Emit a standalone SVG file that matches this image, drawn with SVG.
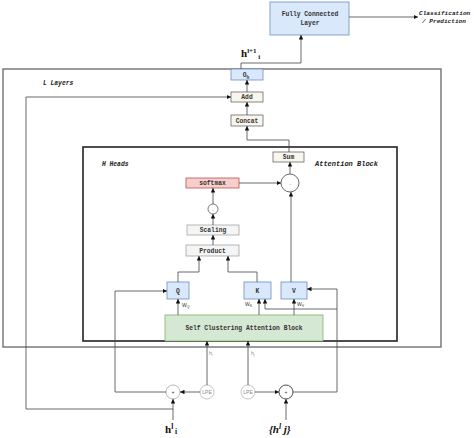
<svg xmlns="http://www.w3.org/2000/svg" width="474" height="438" viewBox="0 0 474 438">
<defs>
<marker id="a" viewBox="0 0 10 10" refX="10" refY="5" markerWidth="4.5" markerHeight="4.5" markerUnits="userSpaceOnUse" orient="auto"><path d="M0,0 L10,5 L0,10 z" fill="#111"/></marker>
</defs>
<style>
.t{font-family:"Liberation Mono","DejaVu Sans Mono",monospace;font-weight:bold;font-size:6.3px;fill:#333;text-anchor:middle}
.it{font-family:"Liberation Mono","DejaVu Sans Mono",monospace;font-weight:bold;font-style:italic;font-size:6.3px;fill:#222}
.h{font-family:"Liberation Serif","DejaVu Serif",serif;font-weight:bold;font-size:11px;fill:#111}
.sm{font-family:"Liberation Sans",sans-serif;font-size:5px;fill:#333}
.gr{font-family:"Liberation Sans",sans-serif;font-size:5px;fill:#888}
.blue{fill:#dae8fc;stroke:#6c8ebf;stroke-width:0.8}
.beige{fill:#f9f7ed;stroke:#36393d;stroke-width:0.6}
.gray{fill:#f5f5f5;stroke:#888;stroke-width:0.6}
.c{fill:none;stroke:#444;stroke-width:0.8}
</style>
<rect x="3" y="69" width="438" height="278" fill="none" stroke="#666" stroke-width="1.3"/>
<rect x="83" y="147" width="314" height="194" fill="none" stroke="#222" stroke-width="1.6"/>
<text class="it" x="43" y="85">L Layers</text>
<text class="it" x="102" y="166">H Heads</text>
<text class="it" x="315" y="166" style="font-size:7px">Attention Block</text>

<g id="fc"><rect class="blue" x="270" y="2" width="79" height="33"/><text class="t" x="310" y="16">Fully Connected</text><text class="t" x="310" y="25">Layer</text></g>
<g id="oh"><rect class="blue" x="231" y="69" width="32" height="11"/><text class="t" x="246" y="77">O<tspan font-size="4.5" dy="1.5">h</tspan></text></g>
<g id="add"><rect class="beige" x="231" y="92" width="32" height="10"/><text class="t" x="247" y="99">Add</text></g>
<g id="concat"><rect class="beige" x="231" y="115" width="32" height="11"/><text class="t" x="247" y="122.5">Concat</text></g>
<g id="sum"><rect class="beige" x="273" y="152" width="31" height="10"/><text class="t" x="288.5" y="159">Sum</text></g>
<g id="softmax"><rect fill="#f8cecc" stroke="#b85450" stroke-width="0.8" x="186" y="178" width="53" height="10"/><text class="t" x="212.5" y="185">softmax</text></g>
<g id="mul"><circle cx="290" cy="183" r="9" fill="#fff" stroke="#444" stroke-width="0.8"/><text class="sm" x="290" y="185" text-anchor="middle">.</text></g>
<g id="dot"><circle cx="213" cy="209" r="5" fill="#fff" stroke="#444" stroke-width="0.7"/><text class="sm" x="213" y="211" text-anchor="middle" font-size="4">.</text></g>
<g id="scaling"><rect class="gray" x="187" y="225" width="52" height="10"/><text class="t" x="213" y="232">Scaling</text></g>
<g id="product"><rect class="gray" x="186" y="245" width="53" height="11" fill="#fafafa"/><text class="t" x="212.5" y="252.5">Product</text></g>
<g id="q"><rect class="blue" x="167" y="282" width="22" height="17"/><text class="t" x="178" y="293">Q</text></g>
<g id="k"><rect class="blue" x="244" y="282" width="27" height="17"/><text class="t" x="257.5" y="293">K</text></g>
<g id="v"><rect class="blue" x="281" y="282" width="26" height="17"/><text class="t" x="294" y="293">V</text></g>
<g id="sca"><rect fill="#d5e8d4" stroke="#82b366" stroke-width="0.8" x="165" y="315" width="158" height="26"/><text class="t" x="244" y="330">Self Clustering Attention Block</text></g>
<g id="plusi"><circle cx="173" cy="392" r="7" fill="#fff" stroke="#999" stroke-width="0.7"/><text class="sm" x="173" y="394" text-anchor="middle" font-size="5">+</text></g>
<g id="lpei"><circle cx="207" cy="392" r="7" fill="#fff" stroke="#aaa" stroke-width="0.7"/><text class="gr" x="207" y="393.5" text-anchor="middle" font-size="3.8">LPE</text></g>
<g id="lpej"><circle cx="248" cy="392" r="7" fill="#fff" stroke="#aaa" stroke-width="0.7"/><text class="gr" x="248" y="393.5" text-anchor="middle" font-size="3.8">LPE</text></g>
<g id="plusj"><circle cx="286" cy="392" r="7" fill="#fff" stroke="#222" stroke-width="0.8"/><text class="sm" x="286" y="394" text-anchor="middle" font-size="5">+</text></g>

<g id="connectors" class="c">
<path class="c" d="M349,17 H418" marker-end="url(#a)"/>
<path class="c" d="M241,69 V63 H301 V35" marker-end="url(#a)"/>
<path class="c" d="M247,115 V102" marker-end="url(#a)"/>
<path class="c" d="M247,92 V80" marker-end="url(#a)"/>
<path class="c" d="M289,152 V140 H247 V126" marker-end="url(#a)"/>
<path class="c" d="M173,409 H26 V97 H231" marker-end="url(#a)"/>
<path class="c" d="M239,183 H281" marker-end="url(#a)"/>
<path class="c" d="M290,174 V162" marker-end="url(#a)"/>
<path class="c" d="M291,282 V192" marker-end="url(#a)"/>
<path class="c" d="M213,225 V214" marker-end="url(#a)"/>
<path class="c" d="M213,204 V188" marker-end="url(#a)"/>
<path class="c" d="M213,245 V235" marker-end="url(#a)"/>
<path class="c" d="M178,282 V272 H199 V256" marker-end="url(#a)"/>
<path class="c" d="M257,282 V272 H228 V256" marker-end="url(#a)"/>
<path class="c" d="M178,315 V299" marker-end="url(#a)"/>
<path class="c" d="M259,315 V299" marker-end="url(#a)"/>
<path class="c" d="M294,315 V299" marker-end="url(#a)"/>
<path class="c" d="M166,392 H115 V291 H167" marker-end="url(#a)"/>
<path class="c" d="M200,392 H180" marker-end="url(#a)"/>
<path class="c" d="M207,385 V341" marker-end="url(#a)"/>
<path class="c" d="M248,385 V341" marker-end="url(#a)"/>
<path class="c" d="M255,392 H279" marker-end="url(#a)"/>
<path class="c" d="M293,392 H337 V289 H307" marker-end="url(#a)"/>
<path class="c" d="M337,309 H265 V299" marker-end="url(#a)"/>
<path class="c" d="M173,420 V399" marker-end="url(#a)"/>
<path class="c" d="M286,420 V399" marker-end="url(#a)"/>
</g>

<text class="it" x="419" y="15" style="font-size:6.1px">Classification</text>
<text class="it" x="422" y="23" style="font-size:6.1px">/ Prediction</text>
<text class="h" x="241" y="57">h<tspan font-size="7" dy="-4">l+1</tspan><tspan font-size="7" dy="6"> i</tspan></text>
<text class="sm" x="182" y="307">W<tspan font-size="3.5" dy="1">Q</tspan></text>
<text class="sm" x="245" y="306">W<tspan font-size="3.5" dy="1">K</tspan></text>
<text class="sm" x="297" y="306">W<tspan font-size="3.5" dy="1">V</tspan></text>
<text class="gr" x="209" y="355">h<tspan font-size="3.5" dy="1">i</tspan></text>
<text class="gr" x="251" y="355">h<tspan font-size="3.5" dy="1">j</tspan></text>
<text class="h" x="165" y="433">h<tspan font-size="7.5" dy="-4">l</tspan><tspan font-size="7.5" dy="5"> i</tspan></text>
<text class="h" x="269" y="433" font-style="italic">{h<tspan font-size="7.5" dy="-4">l</tspan><tspan dy="4"> j}</tspan></text>
</svg>
